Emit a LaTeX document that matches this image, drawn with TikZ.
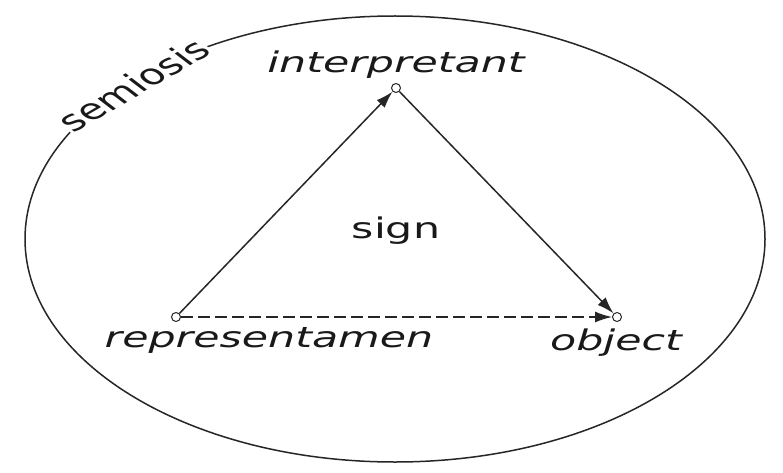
\documentclass[tikz,border=0pt]{standalone}
\usepackage{fontspec}
\setmainfont{DejaVu Sans}
\usetikzlibrary{arrows.meta}
\begin{document}
\begin{tikzpicture}[x=1pt,y=1pt,
  vertex/.style={circle,draw=black!85,fill=white,line width=1pt,minimum size=9pt,inner sep=0pt},
  lbl/.style={font=\fontsize{28.5}{30}\selectfont\itshape,text=black!90,inner sep=0pt,xscale=1.5,anchor=base},
  plain/.style={font=\fontsize{28.5}{30}\selectfont,text=black!90,inner sep=0pt,xscale=1.5,anchor=base},
  conn/.style={line width=1.5pt,draw=black!85,-{Latex[length=17pt,width=11pt]}}]
\useasboundingbox (0,0) rectangle (783,472);
\fill[white] (0,0) rectangle (783,472);
\draw[line width=1.5pt,black!85] (395,233) ellipse [x radius=370, y radius=223];
\node[font=\fontsize{28.5}{30}\selectfont,text=black!90,fill=white,inner sep=1pt,xscale=1.5,rotate=41] (semiosis) at (133,387) {semiosis};
\node[vertex] (interp) at (396,384) {};
\node[vertex] (repr) at (176,155) {};
\node[vertex] (obj) at (617,155) {};
\node[lbl] (linterp) at (396,399) {interpretant};
\node[lbl] (lrepr) at (269,125) {representamen};
\node[lbl] (lobj) at (616,122) {object};
\node[plain] (sign) at (396,234) {sign};
\draw[conn] (repr) -- (interp);
\draw[conn] (interp) -- (obj);
\draw[conn,dash pattern=on 12pt off 5pt] (repr) -- (obj);
\end{tikzpicture}
\end{document}
